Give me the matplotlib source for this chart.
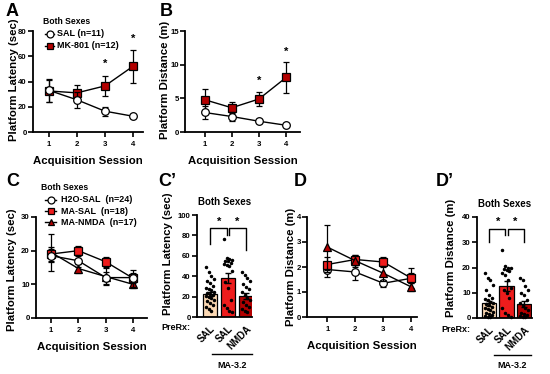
import matplotlib
matplotlib.use("Agg")
import matplotlib.pyplot as plt
import numpy as np

plt.rcParams['font.family'] = ['Liberation Sans', 'DejaVu Sans']
plt.rcParams['font.weight'] = 'bold'
plt.rcParams['axes.labelweight'] = 'bold'

W, H = 550, 374

# ---- data ----
sessions = [1, 2, 3, 4]

# A: latency (sec)
a_sal = [33, 25.5, 16.5, 12.5]
a_sal_err = [9, 6.5, 3.5, 1.5]
a_mk = [32.5, 31, 36.5, 52]
a_mk_err = [8.5, 6, 8, 13]
a_stars = {3: 54, 4: 74}

# B: distance (m)
b_sal = [2.9, 2.3, 1.6, 1.0]
b_sal_err = [1.0, 0.6, 0.3, 0.15]
b_mk = [4.8, 3.6, 4.9, 8.1]
b_mk_err = [1.6, 0.8, 1.0, 2.3]
b_stars = {3: 7.6, 4: 11.9}

# C: latency (sec), three groups
c_h2o = [18.5, 17, 12, 12]
c_h2o_err = [2, 1.8, 1.8, 1.5]
c_masal = [19, 20, 16.7, 11.8]
c_masal_err = [2, 1.5, 1.5, 2.5]
c_nmda = [19.5, 14.7, 12.3, 10]
c_nmda_err = [5.5, 1.4, 2.5, 1.2]

# D: distance (m), three groups
d_h2o = [1.9, 1.8, 1.35, 1.55]
d_h2o_err = [0.3, 0.3, 0.15, 0.2]
d_masal = [2.1, 2.3, 2.2, 1.55]
d_masal_err = [0.3, 0.2, 0.2, 0.4]
d_nmda = [2.8, 2.25, 1.75, 1.2]
d_nmda_err = [0.9, 0.25, 0.3, 0.15]

bar_labels = ['SAL', 'SAL', 'NMDA']

# C': latency per animal
cp_means = [23, 38, 20.5]
cp_sems = [2, 5, 3]
cp_pts = [
    [49, 44, 40, 37, 35, 33, 30, 28, 27, 26, 25, 24, 23, 22, 21, 20, 19, 17, 16, 14, 12, 10, 8, 6],
    [76, 58, 57, 56, 55, 55, 53, 52, 51, 50, 45, 34, 28, 17, 12, 9, 6, 5],
    [44, 41, 38, 35, 32, 29, 27, 25, 22, 19, 17, 15, 12, 10, 8, 6, 5],
]

# D': distance per animal
dp_means = [5.8, 12.7, 5.5]
dp_sems = [1.0, 2.0, 1.3]
dp_pts = [
    [18, 16, 15, 13, 11, 9, 8, 7.5, 7, 6.5, 6, 5.5, 5, 4.5, 4, 3.5, 3, 2.5, 2, 1.5, 1, 0.8, 0.5, 0.3],
    [27, 20.5, 20, 20, 19.5, 19, 18.5, 18, 17, 15, 12, 11, 10, 8, 4, 2, 1, 0.5],
    [16, 15, 12.5, 11, 10, 9, 7, 6, 5, 4, 3, 2, 1.5, 1, 0.8, 0.5, 0.3],
]

RED = '#ee1c1c'
DARKRED = '#b30000'
PEACH = '#fcd9b4'

fig = plt.figure(figsize=(W / 100, H / 100), dpi=100)


def px_axes(x0, y_top, x1, y_bot):
    ax = fig.add_axes([x0 / W, 1 - y_bot / H, (x1 - x0) / W, (y_bot - y_top) / H])
    ax._pxw = x1 - x0
    return ax


def style(ax):
    for s in ['top', 'right']:
        ax.spines[s].set_visible(False)
    for s in ['left', 'bottom']:
        ax.spines[s].set_linewidth(1.3)
    ax.tick_params(width=1.2, length=3.5, labelsize=5.6, pad=1)
    for t in ax.get_xticklabels() + ax.get_yticklabels():
        t.set_fontweight('bold')


def line_series(ax, y, err, marker, face, ms=5.5, z=3):
    ax.errorbar(sessions, y, yerr=err, color='black', lw=1, elinewidth=0.9,
                capsize=2, capthick=0.9, marker=marker, ms=ms, mfc=face,
                mec='black', mew=0.9, zorder=z)


def time_panel(ax, ylim, yticks, ylabel, xlim, gap, ly=0.5):
    ax.set_xlim(*xlim)
    ax.set_ylim(*ylim)
    ax.set_xticks(sessions)
    ax.set_yticks(yticks)
    ax.set_xlabel('Acquisition Session', fontsize=8.2, labelpad=6)
    ax.set_ylabel(ylabel, fontsize=8.2)
    style(ax)
    ax.tick_params(axis='x', pad=3)
    ax.yaxis.set_label_coords(-gap / ax._pxw, ly)


# ---- A ----
axA = px_axes(33, 31, 143, 132)
line_series(axA, a_sal, a_sal_err, 'o', 'white', z=4)
line_series(axA, a_mk, a_mk_err, 's', DARKRED)
for x, y in a_stars.items():
    axA.text(x, y, '*', ha='center', va='center', fontsize=8)
time_panel(axA, (0, 80), [0, 20, 40, 60, 80], 'Platform Latency (sec)', (0.43, 4.36), 14, 0.52)

# ---- B ----
axB = px_axes(185, 31, 300, 132)
line_series(axB, b_sal, b_sal_err, 'o', 'white', z=4)
line_series(axB, b_mk, b_mk_err, 's', DARKRED)
for x, y in b_stars.items():
    axB.text(x, y, '*', ha='center', va='center', fontsize=8)
time_panel(axB, (0, 15), [0, 5, 10, 15], 'Platform Distance (m)', (0.28, 4.51), 15, 0.52)

# ---- C ----
axC = px_axes(36, 217, 147, 318)
line_series(axC, c_h2o, c_h2o_err, 'o', 'white', z=5)
line_series(axC, c_masal, c_masal_err, 's', RED, z=4)
line_series(axC, c_nmda, c_nmda_err, '^', DARKRED, z=3)
time_panel(axC, (0, 30), [0, 10, 20, 30], 'Platform Latency (sec)', (0.45, 4.51), 19, 0.48)

# ---- D ----
axD = px_axes(307, 217, 417, 317)
line_series(axD, d_h2o, d_h2o_err, 'o', 'white', z=3)
line_series(axD, d_masal, d_masal_err, 's', RED, z=4)
line_series(axD, d_nmda, d_nmda_err, '^', DARKRED, z=5)
time_panel(axD, (0, 4), [0, 1, 2, 3, 4], 'Platform Distance (m)', (0.28, 4.2), 11, 0.5)


# ---- bar panels ----
def bar_panel(ax, means, sems, pts, ylim, yticks, ylabel, xlim, br, gap, ly):
    xs = np.arange(3)
    ax.bar(xs, means, width=0.83, color=[PEACH, RED, DARKRED],
           edgecolor='black', linewidth=0.9, zorder=2)
    ax.errorbar(xs, means, yerr=sems, fmt='none', ecolor='black',
                elinewidth=1, capsize=2.5, capthick=1, zorder=3)
    offs = [-0.24, -0.08, 0.08, 0.24, -0.16, 0.0, 0.16]
    for i, vals in enumerate(pts):
        for j, v in enumerate(vals):
            ax.plot(i + offs[j % len(offs)], v, 'o', ms=1.5, color='black',
                    zorder=4, clip_on=False)
    ax.set_xlim(*xlim)
    ax.set_ylim(*ylim)
    ax.set_yticks(yticks)
    ax.set_xticks(xs)
    ax.set_xticklabels(bar_labels, rotation=45, ha='right',
                       rotation_mode='anchor', fontsize=7)
    ax.set_ylabel(ylabel, fontsize=8.2)
    ax.set_title('Both Sexes', fontsize=7, fontweight='bold', pad=7)
    style(ax)
    ax.yaxis.set_label_coords(-gap / ax._pxw, ly)
    ax.tick_params(axis='x', labelsize=7, length=0, pad=5)
    for t in ax.get_xticklabels():
        t.set_fontweight('bold')
    # brackets
    top, l1, mid, l2, star = br
    ax.plot([0, 0, 0.93, 0.93], [l1, top, top, mid], color='black', lw=1, zorder=5)
    ax.plot([1.07, 1.07, 2, 2], [mid, top, top, l2], color='black', lw=1, zorder=5)
    ax.text(0.5, star, '*', ha='center', va='center', fontsize=8)
    ax.text(1.5, star, '*', ha='center', va='center', fontsize=8)


axCp = px_axes(197, 215, 252, 317)
bar_panel(axCp, cp_means, cp_sems, cp_pts, (0, 100), [0, 20, 40, 60, 80, 100],
          'Platform Latency (sec)', (-0.72, 2.33), (87, 72, 80, 66, 93), 24, 0.62)

axDp = px_axes(477, 217, 532, 318)
bar_panel(axDp, dp_means, dp_sems, dp_pts, (0, 40), [0, 10, 20, 30, 40],
          'Platform Distance (m)', (-0.69, 2.46), (35.2, 30, 33, 30, 38), 21, 0.6)

# PreRx / MA-3.2 annotations
for x_pre, x_l0, x_l1, y_pre, y_line in [(161, 212, 252, 328, 354), (441, 494, 531, 329, 355)]:
    fig.text(x_pre / W, 1 - y_pre / H, 'PreRx:', fontsize=6.5, fontweight='bold',
             va='center', ha='left')
    fig.add_artist(plt.Line2D([x_l0 / W, x_l1 / W], [1 - y_line / H] * 2,
                              color='black', lw=1))
    fig.text((x_l0 + x_l1) / 2 / W, 1 - (y_line + 11) / H, 'MA-3.2', fontsize=6.5,
             fontweight='bold', va='center', ha='center')


# ---- legends ----
def legend_entry(x, y, marker, face, label, ln, tx):
    fig.add_artist(plt.Line2D([x / W, (x + ln) / W], [1 - y / H] * 2,
                              color='black', lw=1))
    fig.add_artist(plt.Line2D([(x + ln / 2) / W], [1 - y / H], marker=marker,
                              ms=5, mfc=face, mec='black', mew=0.9, lw=0))
    fig.text((x + tx) / W, 1 - y / H, label, fontsize=6.5, fontweight='bold',
             va='center', ha='left')


fig.text(43 / W, 1 - 22 / H, 'Both Sexes', fontsize=6.2, fontweight='bold', va='center')
legend_entry(45, 34, 'o', 'white', 'SAL (n=11)', 9, 12)
legend_entry(45, 46, 's', DARKRED, 'MK-801 (n=12)', 9, 12)

fig.text(41 / W, 1 - 188 / H, 'Both Sexes', fontsize=6.2, fontweight='bold', va='center')
legend_entry(45, 200, 'o', 'white', 'H2O-SAL  (n=24)', 11, 16)
legend_entry(45, 211, 's', RED, 'MA-SAL  (n=18)', 11, 16)
legend_entry(45, 222, '^', DARKRED, 'MA-NMDA  (n=17)', 11, 16)

# panel letters
for lab, x, y in [('A', 6, 12), ('B', 160, 12), ('C', 6, 182), ("C\u2019", 158, 182),
                  ('D', 294, 182), ("D\u2019", 436, 182)]:
    fig.text(x / W, 1 - y / H, lab, fontsize=13, fontweight='bold', va='center')

fig.savefig('out.png', dpi=100)
